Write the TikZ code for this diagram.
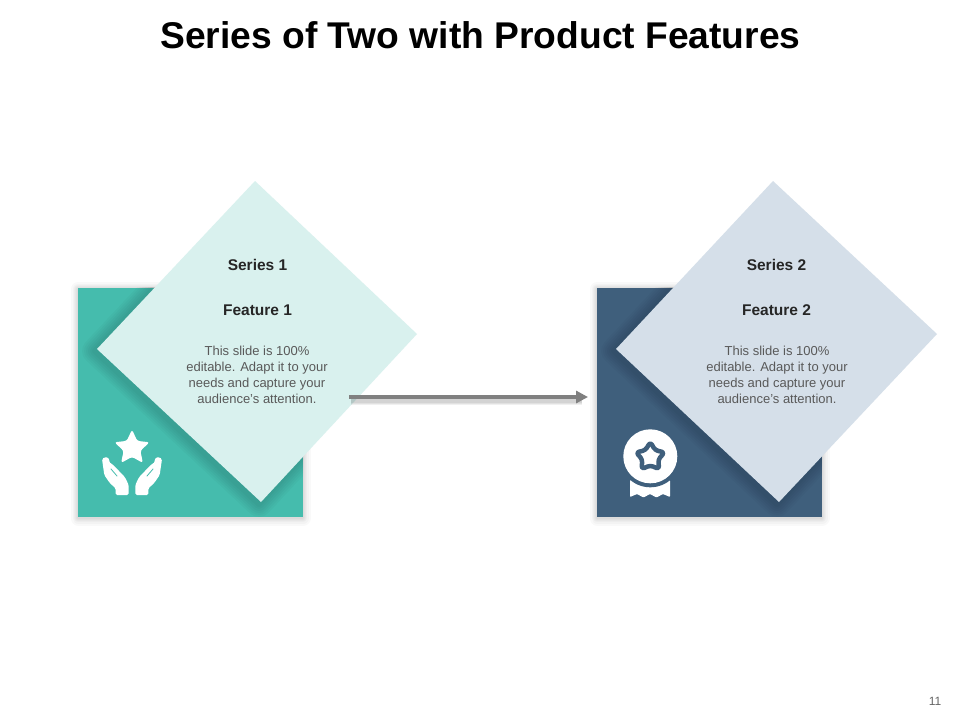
\documentclass[tikz,border=0pt]{standalone}
\usepackage{fontspec}
\setmainfont{Liberation Sans}
\usetikzlibrary{positioning,shapes.geometric,arrows.meta}
\definecolor{tealbox}{RGB}{69,188,173}
\definecolor{navybox}{RGB}{63,95,124}
\definecolor{tealpale}{RGB}{217,241,238}
\definecolor{navypale}{RGB}{213,223,233}

\begin{document}
\begin{tikzpicture}[
        x=1pt,
        y=-1pt,
        seriesbox/.style={
                rectangle,
                minimum width=225pt,
                minimum height=229pt,
                inner sep=0pt
            },
        softshadow/.style={
                draw=black,
                line join=round,
                opacity=0.025
            },
        starnode/.style={
                star,
                star points=5,
                star point ratio=2.1,
                rounded corners=2.5pt,
                inner sep=0pt
            },
        title/.style = {font=\fontsize{37.2}{40}\selectfont\bfseries},
        heading/.style = {font=\fontsize{15.5}{17}\selectfont\bfseries, text=black!85},
        body/.style = {font=\fontsize{13}{16}\selectfont, text=black!65, align=center},
        connector/.style = {-{Triangle[length=12pt,width=12pt]}, line width=4pt, draw=black!50}
    ]
    \useasboundingbox (0,0) rectangle (960,720);
    \fill[white] (0,0) rectangle (960,720);

    \node[title] (slideTitle) at (480.5,35) {Series of Two with Product Features};
    \node[font=\fontsize{12}{14}\selectfont, text=black!60] (pageNumber) at (935,701) {11};

    % corners of the two tilted squares
    \coordinate (oneTop) at (255,181);
    \coordinate (oneRight) at (417,334);
    \coordinate (oneBottom) at (261,502);
    \coordinate (oneLeft) at (97,349);
    \coordinate (twoTop) at (773,181);
    \coordinate (twoRight) at (937,334);
    \coordinate (twoBottom) at (779,502);
    \coordinate (twoLeft) at (616,349);

    % shadows under the boxes
    \foreach \w in {2,4,6,8,11,15} {
        \draw[softshadow, line width=\w pt] (78,289) rectangle (303,518);
        \draw[softshadow, line width=\w pt] (597,289) rectangle (822,518);
    }
    \node[seriesbox, fill=tealbox] (seriesOne) at (190.5,402.5) {};
    \node[seriesbox, fill=navybox] (seriesTwo) at (709.5,402.5) {};

    % shadows under the tilted squares, only seen on the boxes
    \begin{scope}
        \clip (seriesOne.north west) rectangle (seriesOne.south east);
        \foreach \w in {6,10,14,18,22,26} {
            \draw[softshadow, line width=\w pt] ([shift={(-2,2)}]oneTop) -- ([shift={(-2,2)}]oneRight) -- ([shift={(-2,2)}]oneBottom) -- ([shift={(-2,2)}]oneLeft) -- cycle;
        }
    \end{scope}
    \begin{scope}
        \clip (seriesTwo.north west) rectangle (seriesTwo.south east);
        \foreach \w in {6,10,14,18,22,26} {
            \draw[softshadow, line width=\w pt] ([shift={(-2,2)}]twoTop) -- ([shift={(-2,2)}]twoRight) -- ([shift={(-2,2)}]twoBottom) -- ([shift={(-2,2)}]twoLeft) -- cycle;
        }
    \end{scope}
    \fill[tealpale] (oneTop) -- (oneRight) -- (oneBottom) -- (oneLeft) -- cycle;
    \fill[navypale] (twoTop) -- (twoRight) -- (twoBottom) -- (twoLeft) -- cycle;

    \node[heading] (seriesOneName) at (257.5,265) {Series 1};
    \node[heading] (featureOne) at (257.5,310) {Feature 1};
    \node[body] (textOne) at (257,374.5) {This slide is 100\%\\editable. Adapt it to your\\needs and capture your\\audience's attention.};
    \node[heading] (seriesTwoName) at (776.5,265) {Series 2};
    \node[heading] (featureTwo) at (776.5,310) {Feature 2};
    \node[body] (textTwo) at (777,374.5) {This slide is 100\%\\editable. Adapt it to your\\needs and capture your\\audience's attention.};

    % arrow between the series
    \coordinate (arrowStart) at (349,397);
    \coordinate (arrowEnd) at (588,397);
    \foreach \w in {8,6,4} {
        \draw[black, opacity=0.06, line width=\w pt] ([shift={(2,4)}]arrowStart) -- ([shift={(-6,4)}]arrowEnd);
    }
    \draw[connector] (arrowStart) -- (arrowEnd);

    % star and hands
    \node[starnode, fill=white, minimum size=37pt] (handStar) at (132,448) {};
    \foreach \s in {1,-1} {
        \begin{scope}[shift={(132,0)}, xscale=\s]
            \fill[white, rounded corners=1.5pt] (-30,459) -- (-27.7,457.3) -- (-23.7,457.3) -- (-21.7,464) -- (-20.3,464) -- (-18.7,465) -- (-7,477.3) -- (-3.3,485) -- (-3.3,495) -- (-16.3,495) -- (-16.3,488.3) -- (-22,483.3) -- (-27.7,475) -- cycle;
            \draw[tealbox, line width=0.8pt, line cap=round] (-21,469) -- (-15,476);
        \end{scope}
    }

    % medal
    \fill[white, rounded corners=0.8pt] (630,480) -- (670,480) -- (670,497) -- (663,494) -- (656.5,497.5) -- (650,494) -- (643.5,497.5) -- (637,494) -- (630,497) -- cycle;
    \node[circle, fill=navybox, minimum size=62pt, inner sep=0pt] (medalRim) at (650.3,456.3) {};
    \node[circle, fill=white, minimum size=54pt, inner sep=0pt] (medalDisc) at (medalRim) {};
    \node[starnode, star point ratio=1.8, rounded corners=3pt, fill=white, draw=navybox, line width=4.5pt, line join=round, minimum size=30pt] (medalStar) at (650.3,457) {};
\end{tikzpicture}
\end{document}
